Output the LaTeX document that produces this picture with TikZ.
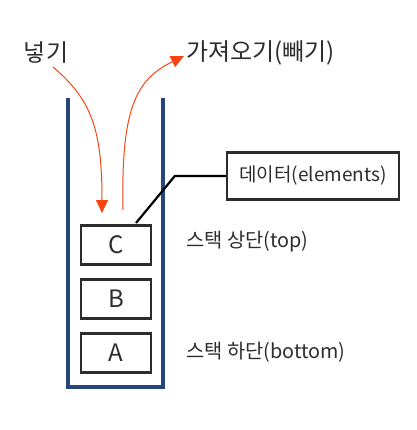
\documentclass[tikz,border=0pt]{standalone}
\usepackage{fontspec}
\setmainfont{Noto Sans CJK KR}
\usetikzlibrary{arrows.meta,calc}
\definecolor{stackBlue}{RGB}{38,70,122}
\definecolor{moveRed}{RGB}{250,68,20}
\definecolor{textDark}{RGB}{45,45,45}

\begin{document}
\begin{tikzpicture}[
  x=1pt, y=-1pt,
  elembox/.style={draw=black, line width=2.2pt, minimum width=70pt, minimum height=39pt,
                  inner sep=0pt, font=\fontsize{24}{26}\selectfont, textDark},
  databox/.style={draw=black, line width=2.4pt, minimum width=172pt, minimum height=47pt,
                  inner sep=0pt, font=\fontsize{19}{21}\selectfont, textDark},
  toplabel/.style={font=\fontsize{24}{26}\selectfont, textDark, inner sep=0pt},
  sidelabel/.style={font=\fontsize{19.8}{21}\selectfont, textDark, anchor=west, inner sep=0pt},
  movearrow/.style={draw=moveRed, line width=1pt, -{Triangle[length=13pt,width=12pt]}},
]
\useasboundingbox (0,0) rectangle (416,430);

%% ── stack walls (open at the top) ───────────────────────
\def\wl{68}    % left wall x
\def\wr{163}   % right wall x
\def\wt{98}    % top of walls
\def\wb{387}   % floor
\draw[stackBlue, line width=3.5pt] (\wl,\wt) -- (\wl,\wb) -- (\wr,\wb) -- (\wr,\wt);

%% ── elements, bottom to top ─────────────────────────────
\node[elembox] (boxA) at (116,353) {A};
\node[elembox] (boxB) at (116,299) {B};
\node[elembox] (boxC) at (116,245) {C};

%% ── side labels ─────────────────────────────────────────
\node[sidelabel] (toplbl) at (186,242) {스택 상단(top)};
\node[sidelabel] (botlbl) at (186,352) {스택 하단(bottom)};

%% ── push / pop ──────────────────────────────────────────
\node[toplabel] (push) at (46,53) {넣기};
\node[toplabel, anchor=west] (pop) at (186,53) {가져오기(빼기)};
\coordinate (pushStart) at (53,67);
\coordinate (pushEnd)   at (102,213);
\coordinate (popStart)  at (123,210);
\coordinate (popEnd)    at (184,56);
\draw[movearrow] (pushStart) .. controls (92,100) and (102,130) .. (pushEnd);
\draw[movearrow] (popStart) .. controls (121,110) and (135,80) .. (popEnd);

%% ── callout for the data ────────────────────────────────
\node[databox] (data) at (313,176) {데이터(elements)};
\coordinate (tipC) at (136,223);
\draw[black, line width=2.2pt] (data.west) -- ++(-51,0) -- (tipC);

\end{tikzpicture}
\end{document}
